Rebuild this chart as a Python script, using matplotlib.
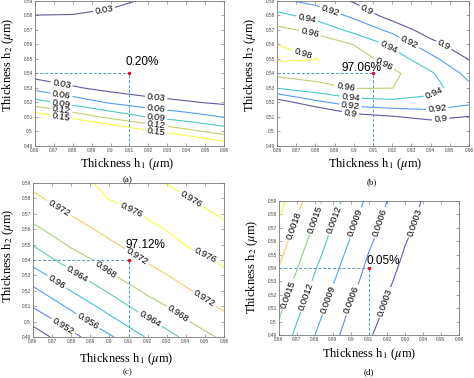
import numpy as np
import matplotlib
matplotlib.use('Agg')
import matplotlib.pyplot as plt
from matplotlib.colors import LinearSegmentedColormap, Normalize

plt.rcParams['font.family'] = ['Liberation Sans', 'DejaVu Sans']
plt.rcParams['mathtext.fontset'] = 'stix'

# ---------------- data ----------------
h1 = [0.86, 0.88, 0.90, 0.92, 0.94, 0.96]
h2 = [0.49, 0.50, 0.51, 0.52, 0.53, 0.54, 0.55, 0.56, 0.57, 0.58, 0.59]

# panel (a) field, rows = h2, cols = h1
za = [
    [0.363, 0.320, 0.278, 0.238, 0.202, 0.170],
    [0.259, 0.221, 0.186, 0.155, 0.130, 0.1074],
    [0.172, 0.1405, 0.112, 0.0894, 0.0734, 0.0593],
    [0.102, 0.0781, 0.0567, 0.0419, 0.0330, 0.0254],
    [0.0508, 0.0339, 0.0201, 0.0122, 0.0085, 0.0056],
    [0.0172, 0.0079, 0.0021, 0.0003, 0.0000, 0.0000],
    [0.0014, 0.0000, 0.0005, 0.0008, 0.0008, 0.0009],
    [0.0016, 0.0035, 0.0043, 0.0037, 0.0035, 0.0034],
    [0.0111, 0.0129, 0.0118, 0.0089, 0.0079, 0.0074],
    [0.0293, 0.0285, 0.0231, 0.0163, 0.0140, 0.0130],
    [0.0560, 0.0500, 0.0380, 0.0259, 0.0220, 0.0201],
]
levels_a = [0.03, 0.06, 0.09, 0.12, 0.15]

# panel (b)
zb = [
    [0.53, 0.64, 0.72, 0.76, 0.82, 0.84],
    [0.68, 0.77, 0.82, 0.84, 0.874, 0.87],
    [0.80, 0.866, 0.891, 0.898, 0.9067, 0.8987],
    [0.888, 0.9143, 0.9304, 0.9347, 0.9326, 0.9244],
    [0.941, 0.952, 0.961, 0.9602, 0.948, 0.925],
    [0.9658, 0.9697, 0.9715, 0.965, 0.943, 0.9135],
    [0.983, 0.9805, 0.970, 0.9517, 0.926, 0.899],
    [0.9799, 0.972, 0.9596, 0.9356, 0.9077, 0.8845],
    [0.9654, 0.955, 0.9341, 0.915, 0.8885, 0.868],
    [0.9457, 0.9327, 0.916, 0.891, 0.869, 0.852],
    [0.924, 0.9145, 0.898, 0.868, 0.85, 0.836],
]
levels_b = [0.90, 0.92, 0.94, 0.96, 0.98]

# panel (c)
zc = [
    [0.9457, 0.9508, 0.9554, 0.9604, 0.9648, 0.9689],
    [0.9490, 0.9539, 0.9587, 0.9632, 0.9677, 0.9708],
    [0.9523, 0.9568, 0.9617, 0.9662, 0.9698, 0.9726],
    [0.9551, 0.9601, 0.9645, 0.9688, 0.9716, 0.9741],
    [0.9583, 0.9629, 0.9676, 0.9706, 0.9732, 0.9756],
    [0.9614, 0.9659, 0.9696, 0.9724, 0.9748, 0.9764],
    [0.9642, 0.9686, 0.9714, 0.9739, 0.9761, 0.9768],
    [0.9672, 0.9704, 0.9731, 0.9755, 0.9766, 0.9763],
    [0.9694, 0.9722, 0.9746, 0.9763, 0.9766, 0.9758],
    [0.9713, 0.9738, 0.9761, 0.9768, 0.9761, 0.9752],
    [0.9729, 0.9753, 0.9765, 0.9764, 0.9755, 0.9745],
]
levels_c = [0.948, 0.952, 0.956, 0.960, 0.964, 0.968, 0.972, 0.976]

# panel (d): finer h1, coarser h2, values in units of 1e-4
h1_d = [0.86, 0.87, 0.88, 0.89, 0.90, 0.91, 0.92, 0.93, 0.94, 0.95, 0.96]
h2_d = [0.49, 0.51, 0.53, 0.55, 0.57, 0.59]
zd_e4 = [
    [14.1, 11.31, 9.0, 6.69, 4.83, 3.17, 2.325, 1.575, 1.06, 0.78, 0.5],
    [15.65, 12.72, 10.25, 7.94, 5.73, 4.07, 2.73, 1.98, 1.23, 0.93, 0.65],
    [17.13, 14.34, 11.49, 9.18, 6.88, 4.97, 3.30, 2.39, 1.64, 1.08, 0.80],
    [18.66, 15.87, 12.96, 10.43, 8.12, 5.87, 4.20, 2.79, 2.04, 1.29, 0.95],
    [20.28, 17.35, 14.58, 11.68, 9.37, 7.06, 5.10, 3.43, 2.45, 1.70, 1.10],
    [22.2, 18.9, 16.09, 13.2, 10.62, 8.31, 6.0, 4.33, 2.85, 2.10, 1.35],
]
levels_d = [0.0003, 0.0006, 0.0009, 0.0012, 0.0015, 0.0018, 0.0021]

point_h1 = 0.91
point_h2 = 0.54
point_labels = ['0.20%', '97.06%', '97.12%', '0.05%']
captions = ['(a)', '(b)', '(c)', '(d)']

x_ticks = [0.86, 0.87, 0.88, 0.89, 0.90, 0.91, 0.92, 0.93, 0.94, 0.95, 0.96]
x_tick_labels = ['0.86', '0.87', '0.88', '0.89', '0.9', '0.91', '0.92', '0.93', '0.94', '0.95', '0.96']
y_ticks = [0.49, 0.50, 0.51, 0.52, 0.53, 0.54, 0.55, 0.56, 0.57, 0.58, 0.59]
y_tick_labels = ['0.49', '0.5', '0.51', '0.52', '0.53', '0.54', '0.55', '0.56', '0.57', '0.58', '0.59']

# ---------------- style ----------------
_par = np.array([
    (0.208, 0.166, 0.529), (0.275, 0.320, 0.950), (0.165, 0.490, 0.970),
    (0.080, 0.620, 0.880), (0.090, 0.720, 0.720), (0.290, 0.790, 0.510),
    (0.700, 0.750, 0.280), (0.990, 0.750, 0.240), (0.976, 0.983, 0.054)])
_par = _par * 0.78 + 0.22  # washed-out look of the reference
parula = LinearSegmentedColormap.from_list('parula', [tuple(c) for c in _par])

fig = plt.figure(figsize=(4.74, 3.78), dpi=100)
positions = [
    [0.0738, 0.6138, 0.3987, 0.3836],
    [0.5844, 0.6138, 0.4051, 0.3836],
    [0.0696, 0.1085, 0.4030, 0.4074],
    [0.5886, 0.1138, 0.3797, 0.3545],
]
ylabel_coords = [(-0.10, 0.56), (-0.10, 0.56), (-0.089, 0.53), (-0.105, 0.51)]
xlabel_coords = [(0.49, -0.072), (0.51, -0.072), (0.49, -0.088), (0.5, -0.08)]
text_pos = [(0.9168, 0.5476), (0.904, 0.5441), (0.9189, 0.5497), (0.9179, 0.5451)]
caption_pos = [(128, 180), (372, 182), (128, 372), (369, 372)]

label_pos = [
    [(0.8967, 0.5826), (0.874, 0.5322), (0.924, 0.5215), (0.874, 0.525), (0.924, 0.5135),
     (0.874, 0.5195), (0.924, 0.5078), (0.874, 0.5147), (0.924, 0.5027), (0.874, 0.5102),
     (0.924, 0.4982)],
    [(0.8736, 0.5528), (0.8773, 0.5688), (0.9165, 0.5481), (0.8956, 0.5291),
     (0.8755, 0.578), (0.9183, 0.5585), (0.9427, 0.5245), (0.8982, 0.5222),
     (0.8877, 0.5838), (0.9296, 0.5631), (0.9436, 0.5137), (0.8982, 0.5176),
     (0.907, 0.5843), (0.947, 0.5597), (0.9453, 0.5079), (0.8982, 0.5124)],
    [(0.874, 0.5745), (0.9133, 0.5405), (0.950, 0.5155), (0.8976, 0.5335), (0.9352, 0.5039),
     (0.8836, 0.5317), (0.9212, 0.5016), (0.8722, 0.5252), (0.8888, 0.5004),
     (0.8757, 0.4969), (0.9116, 0.5722), (0.9483, 0.5386), (0.9422, 0.5791)],
    [(0.9173, 0.5148), (0.9342, 0.5744), (0.8985, 0.5173), (0.9145, 0.5744),
     (0.8863, 0.5173), (0.9013, 0.5744), (0.8732, 0.5198), (0.8891, 0.5768),
     (0.8638, 0.521), (0.8788, 0.5768), (0.8685, 0.5719)],
]

fields = [
    (h1, h2, np.array(za), levels_a),
    (h1, h2, np.array(zb), levels_b),
    (h1, h2, np.array(zc), levels_c),
    (h1_d, h2_d, np.array(zd_e4) * 1e-4, levels_d),
]

serif = ['Liberation Serif', 'DejaVu Serif']
for i in range(4):
    ax = fig.add_axes(positions[i])
    xs, ys, Z, lev = fields[i]
    X, Y = np.meshgrid(xs, ys)
    cs = ax.contour(X, Y, Z, levels=lev, cmap=parula,
                    norm=Normalize(lev[0], lev[-1]), linewidths=0.8)
    ax.clabel(cs, manual=label_pos[i], inline=True, fmt='%g',
              fontsize=6.8, colors='k', inline_spacing=2)
    ax.plot([x_ticks[0], point_h1], [point_h2, point_h2], '--', color='#4a98c8', lw=0.7,
            dashes=(3, 2))
    ax.plot([point_h1, point_h1], [y_ticks[0], point_h2], '--', color='#4a98c8', lw=0.7,
            dashes=(3, 2))
    ax.plot(point_h1, point_h2, 'o', color='#e0102a', ms=2.6, mec='none')
    ax.text(text_pos[i][0], text_pos[i][1], point_labels[i], fontsize=8.5,
            ha='center', va='center')
    ax.set_xlim(0.86, 0.96)
    ax.set_ylim(0.49, 0.59)
    ax.set_xticks(x_ticks)
    ax.set_xticklabels(x_tick_labels)
    ax.set_yticks(y_ticks)
    ax.set_yticklabels(y_tick_labels)
    ax.tick_params(direction='in', length=2, width=0.4, top=True, right=True,
                   labelsize=3.4, labelcolor='#444444', color='#666666', pad=1.5)
    for s in ax.spines.values():
        s.set_color('#777777')
        s.set_linewidth(0.6)
    ax.set_xlabel(r'Thickness h$_1$ ($\mu$m)', fontsize=9, family=serif)
    ax.set_ylabel(r'Thickness h$_2$ ($\mu$m)', fontsize=9, family=serif)
    ax.xaxis.set_label_coords(*xlabel_coords[i])
    ax.yaxis.set_label_coords(*ylabel_coords[i])
    fig.text(caption_pos[i][0] / 474, 1 - caption_pos[i][1] / 378, captions[i],
             fontsize=6.5, family=serif, ha='center', va='center')

fig.savefig('out.png', dpi=100)
